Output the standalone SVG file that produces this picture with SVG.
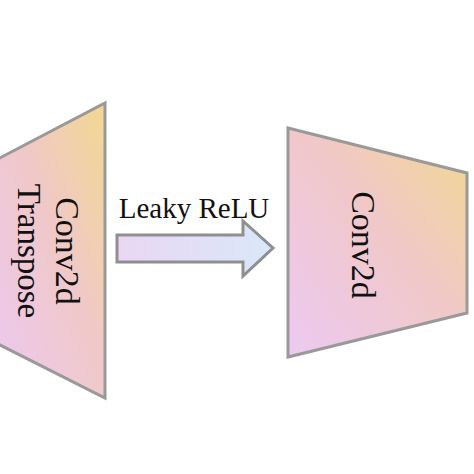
<svg xmlns="http://www.w3.org/2000/svg" width="474" height="474" viewBox="0 0 474 474">
<defs>
<linearGradient id="gTrap" x1="0" y1="1" x2="1" y2="0">
<stop offset="0" stop-color="#ecc9f2"/>
<stop offset="0.55" stop-color="#f0c8c8"/>
<stop offset="1" stop-color="#f2d890"/>
</linearGradient>
<linearGradient id="gArrow" x1="0" y1="0" x2="1" y2="0">
<stop offset="0" stop-color="#ead6f4"/>
<stop offset="1" stop-color="#d9e8f8"/>
</linearGradient>
<style>
.trap{fill:url(#gTrap);stroke:#999999;stroke-width:3;stroke-linejoin:miter}
.arrow{fill:url(#gArrow);stroke:#8f8f8f;stroke-width:3;stroke-linejoin:miter}
.lbl{font-family:"Liberation Serif","Times New Roman",serif;fill:#111111}
</style>
</defs>
<rect width="474" height="474" fill="#ffffff"/>
<g id="conv2d-transpose">
<polygon class="trap" points="105,103 105,398 -4,343 -4,160"/>
<text class="lbl" font-size="34" text-anchor="middle" transform="translate(56,251) rotate(90)">Conv2d</text>
<text class="lbl" font-size="33" text-anchor="middle" transform="translate(18,251) rotate(90)">Transpose</text>
</g>
<g id="connectors">
<polygon class="arrow" points="117,235 243,235 243,221 273,248 243,276 243,262 117,262"/>
<text class="lbl" font-size="29" x="194" y="218" text-anchor="middle">Leaky ReLU</text>
</g>
<g id="conv2d">
<polygon class="trap" points="288,128 467,173 467,313 288,357"/>
<text class="lbl" font-size="34" text-anchor="middle" transform="translate(352,245) rotate(90)">Conv2d</text>
</g>
</svg>
